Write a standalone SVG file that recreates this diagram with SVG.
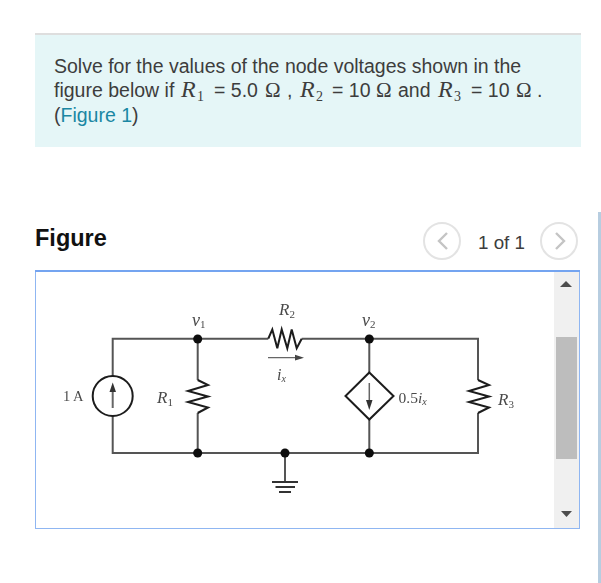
<svg xmlns="http://www.w3.org/2000/svg" width="601" height="583" viewBox="0 0 601 583">
<defs><filter id="soft" x="-5%" y="-5%" width="110%" height="110%"><feGaussianBlur stdDeviation="0.45"/></filter></defs>
<style>
text{font-family:"Liberation Sans",Arial,sans-serif;fill:#3d3d3d}
.t{font-size:19.5px}
.m{font-family:"Liberation Serif",serif;font-style:italic;font-size:24px}
.n{font-family:"Liberation Serif",serif;font-size:21px}
.s{font-family:"Liberation Serif",serif;font-size:14px}
.w{fill:none;stroke:#555;stroke-width:2}
.k{fill:none;stroke:#1c1c1c;stroke-width:2}
.d{fill:#0c0c0c}
.c{font-family:"Liberation Serif",serif;fill:#4a4a4a}
.ci{font-style:italic}
.nav{fill:#fff;stroke:#e3e3e3;stroke-width:2}
.ch{fill:none;stroke:#c4c4c4;stroke-width:2.4}
.tri{fill:#4d4d4d}
</style>
<rect width="601" height="583" fill="#fff"/>
<rect x="598" y="212" width="3" height="371" fill="#b7cde0"/>
<g id="prompt">
<rect x="35" y="34" width="546" height="113" fill="#e5f6f7"/>
<rect x="35" y="33" width="546" height="2" fill="#dedede"/>
<text class="t" x="54" y="73">Solve for the values of the node voltages shown in the</text>
<text class="t" x="54" y="97">figure below if</text>
<text class="m" x="181" y="97">R</text><text class="s" x="197" y="101">1</text>
<text class="t" x="214" y="97">= 5.0</text><text class="n" x="265" y="97">Ω</text><text class="t" x="287" y="97">,</text>
<text class="m" x="300" y="97">R</text><text class="s" x="316" y="101">2</text>
<text class="t" x="332" y="97">= 10</text><text class="n" x="376" y="97">Ω</text><text class="t" x="398" y="97">and</text>
<text class="m" x="438" y="97">R</text><text class="s" x="454" y="101">3</text>
<text class="t" x="471" y="97">= 10</text><text class="n" x="516" y="97">Ω</text><text class="t" x="537" y="97">.</text>
<text class="t" x="54" y="122">(<tspan fill="#1a87a3">Figure 1</tspan>)</text>
</g>
<g id="figure-header">
<text x="35" y="246" font-size="23.500" font-weight="700" style="fill:#111">Figure</text>
<circle class="nav" cx="442" cy="241" r="18"/>
<path class="ch" d="M447 233L439 241L447 249"/>
<text x="478" y="249" font-size="18.800">1 of 1</text>
<circle class="nav" cx="559" cy="241" r="18"/>
<path class="ch" d="M556 233L564 241L556 249"/>
</g>
<g id="panel">
<rect x="35.500" y="271" width="544" height="257.500" fill="#fff" stroke="#8fb6f2" stroke-width="1"/>
<rect x="35" y="270" width="545" height="2" fill="#74a4f0"/>
<rect x="554" y="272" width="25" height="256" fill="#f0f0f0"/>
<rect x="556" y="337" width="21" height="122" fill="#bdbdbd"/>
<path class="tri" d="M566 281L572 287H560Z"/>
<path class="tri" d="M561 511H572L566.500 517Z"/>
</g>
<g filter="url(#soft)">
<g id="connectors">
<path class="w" d="M112.700 376V338.700H268.300M301.700 338.700H478V380M478 413V453H112.700V416"/>
<path class="w" d="M197.700 338.700V380M197.700 413V453"/>
<path class="w" d="M369.300 338.700V372.500M369.300 419.500V453"/>
<path class="w" d="M285 453V482"/>
</g>
<g id="current-source">
<circle cx="112.700" cy="396" r="20" fill="#fff" stroke="#1c1c1c" stroke-width="2"/>
<path d="M112.700 408V388" fill="none" stroke="#666" stroke-width="2"/>
<path d="M112.700 382.500L109.500 392H116Z" fill="#333"/>
<text class="c" x="63" y="401" font-size="14.500">1 A</text>
</g>
<g id="r1">
<path class="k" d="M197.700 380L208 385L188 391L208 396.500L188 402L208 407.500L197.700 413"/>
<text class="c ci" x="157" y="403" font-size="17">R<tspan font-size="11" dy="3" font-style="normal">1</tspan></text>
<text class="c ci" x="192" y="326" font-size="18">v<tspan font-size="11" dy="2" font-style="normal">1</tspan></text>
</g>
<g id="r2">
<path class="k" d="M268.300 338.700L272.300 329.500L277.300 348.300L281.700 329.500L287.300 348.300L291.700 329.500L296.700 348.300L301.700 338.700"/>
<text class="c ci" x="279" y="315" font-size="17">R<tspan font-size="11" dy="3" font-style="normal">2</tspan></text>
<path d="M268 357.700H301" stroke="#666" stroke-width="1.200" fill="none"/>
<path d="M304 357.700L295 354.800V360.600Z" fill="#444"/>
<text class="c ci" x="277" y="380" font-size="16">i<tspan font-size="10" dy="2">x</tspan></text>
</g>
<g id="dependent-source">
<path d="M369.300 372.500L393.500 396L369.300 419.500L345.500 396Z" fill="#fff" stroke="#1c1c1c" stroke-width="2"/>
<path d="M369.300 383V403" fill="none" stroke="#666" stroke-width="1.500"/>
<path d="M369.300 410L366 400H372.500Z" fill="#333"/>
<text class="c" x="398.500" y="403" font-size="15.500">0.5<tspan font-style="italic">i</tspan><tspan font-size="10" dy="2" font-style="italic">x</tspan></text>
<text class="c ci" x="362" y="326" font-size="18">v<tspan font-size="11" dy="2" font-style="normal">2</tspan></text>
</g>
<g id="r3">
<path class="k" d="M478 380L489 385L469 391L489 396.500L469 402L489 407.500L478 413"/>
<text class="c ci" x="498" y="405" font-size="17">R<tspan font-size="11" dy="3" font-style="normal">3</tspan></text>
</g>
<g id="nodes">
<circle class="d" cx="197.700" cy="339" r="4.500"/>
<circle class="d" cx="369.300" cy="339" r="4.500"/>
<circle class="d" cx="197.700" cy="453" r="4.500"/>
<circle class="d" cx="285" cy="453" r="4.500"/>
<circle class="d" cx="369.300" cy="453" r="4.500"/>
</g>
<g id="ground">
<path d="M272 482H298M275.500 487H295M279 492H291" fill="none" stroke="#333" stroke-width="2"/>
</g>
</g>
</svg>
